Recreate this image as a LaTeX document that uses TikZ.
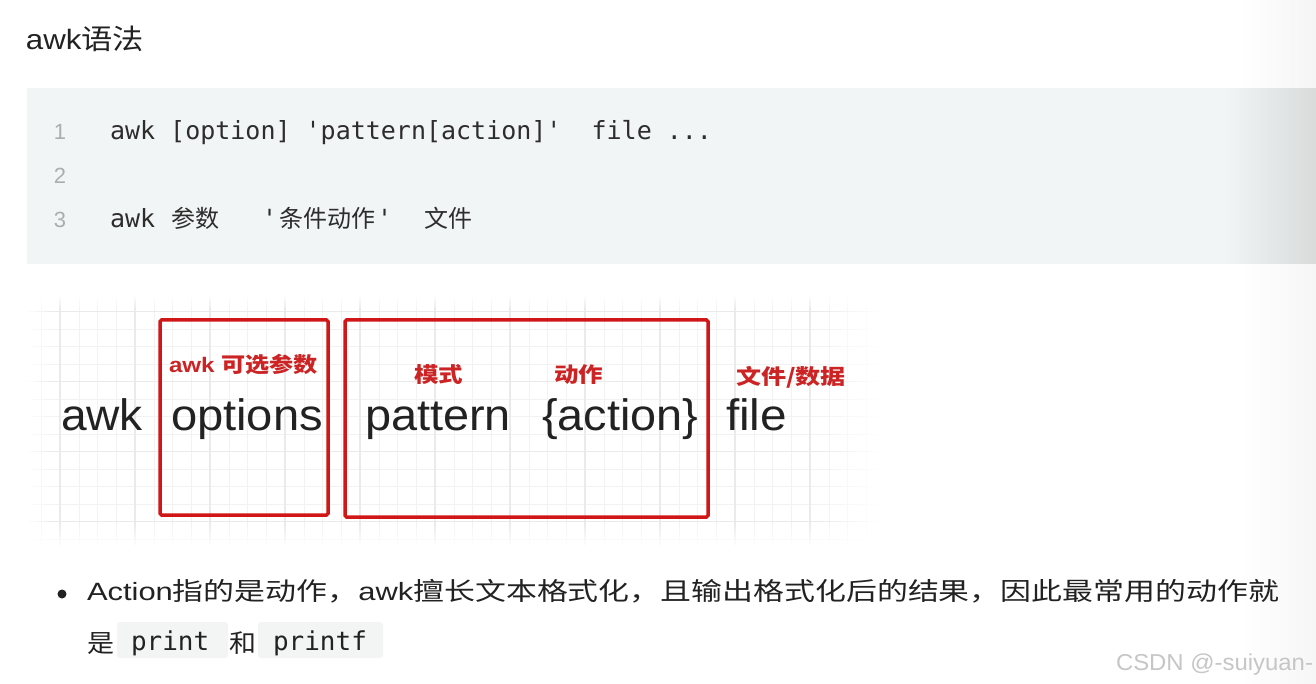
\documentclass[tikz,border=0pt]{standalone}
\usepackage{fontspec}
\usepackage{graphicx}
\setmainfont{Liberation Sans}
\newfontfamily\cjk{Noto Sans CJK SC}
\newfontfamily\mono{DejaVu Sans Mono}
\usetikzlibrary{fadings}
\definecolor{txt}{RGB}{34,34,34}
\definecolor{codetxt}{RGB}{45,45,45}
\definecolor{codebg}{RGB}{242,245,245}
\definecolor{lnum}{RGB}{168,175,175}
\definecolor{boxred}{RGB}{208,22,22}
\definecolor{labred}{RGB}{204,36,36}
\definecolor{gridminor}{RGB}{242,242,242}
\definecolor{gridmajor}{RGB}{234,234,234}
\definecolor{chipbg}{RGB}{243,244,244}
\definecolor{wm}{RGB}{198,198,198}
\tikzset{
  lbl/.style={anchor=base west, inner sep=0pt, outer sep=0pt},
  codeline/.style={lbl, text=codetxt, font=\mono\fontsize{25}{25}\selectfont},
  codecjk/.style={lbl, text=codetxt, font=\cjk\fontsize{24}{24}\selectfont},
  linenum/.style={anchor=base, inner sep=0pt, text=lnum, font=\fontsize{22}{22}\selectfont},
  bigword/.style={lbl, text=txt, font=\fontsize{44}{44}\selectfont},
  redlabel/.style={lbl, text=labred, font=\bfseries\fontsize{21}{21}\selectfont},
  redbox/.style={draw=boxred, line width=3.5pt, rounded corners=1.5pt, inner sep=0pt},
  chip/.style={fill=chipbg, rounded corners=3pt, inner sep=0pt},
  gminor/.style={draw=gridminor, line width=1pt},
  gmajor/.style={draw=gridmajor, line width=1.2pt}
}
\begin{document}
\begin{tikzpicture}[x=1pt,y=-1pt]
\useasboundingbox (0,0) rectangle (1316,684);
\fill[white] (0,0) rectangle (1316,684);

% title
\node[lbl, text=txt, font=\fontsize{28}{28}\selectfont] (title) at (26,50)
  {\resizebox{118pt}{\height}{awk{\cjk 语法}}};

% code block
\fill[codebg] (27,88) rectangle (1316,264);
\node[linenum] (n1) at (60,140) {1};
\node[linenum] (n2) at (60,184) {2};
\node[linenum] (n3) at (60,228) {3};
\node[codeline] (c1) at (110,140) {awk [option] 'pattern[action]'\ \ file ...};
\node[codeline] (c3a) at (110,228) {awk};
\node[codecjk] (c3b) at (171,228) {参数};
\node[codeline] (c3c) at (262,228) {'};
\node[codecjk] (c3d) at (279,228) {条件动作};
\node[codeline] (c3e) at (377,228) {'};
\node[codecjk] (c3f) at (424,228) {文件};

% grid
\begin{scope}
  \clip (27,296) rectangle (880,546);
  \foreach \k in {-1,...,14} \draw[gminor] (27,{311.7+17.5*\k}) -- (880,{311.7+17.5*\k});
  \foreach \k in {-1,...,45} \draw[gminor] ({41.7+18.75*\k},296) -- ({41.7+18.75*\k},546);
  \foreach \k in {0,...,3} \draw[gmajor] (27,{311.7+70*\k}) -- (880,{311.7+70*\k});
  \foreach \k in {0,...,11} \draw[gmajor] ({60+75*\k},296) -- ({60+75*\k},546);
\end{scope}
\fill[white, path fading=east] (26,295) rectangle (52,547);
\fill[white, path fading=west] (815,295) rectangle (881,547);
\fill[white, path fading=north] (26,522) rectangle (881,547);
\fill[white, path fading=south] (26,295) rectangle (881,309);

% red boxes
\node[redbox, minimum width=168pt, minimum height=195pt] (optbox) at (244,417.5) {};
\node[redbox, minimum width=363pt, minimum height=197pt] (actbox) at (526.5,418.5) {};

% red labels
\node[redlabel] (l1) at (169,372) {\resizebox{149pt}{\height}{awk {\cjk 可选参数}}};
\node[redlabel] (l2) at (414,382) {\resizebox{49pt}{\height}{\cjk 模式}};
\node[redlabel] (l3) at (554,382) {\resizebox{49pt}{\height}{\cjk 动作}};
\node[redlabel] (l4) at (736,384) {\resizebox{110pt}{\height}{\cjk 文件/数据}};

% big words
\node[bigword] (w1) at (61,430) {\resizebox{82pt}{\height}{awk}};
\node[bigword] (w2) at (171,430) {\resizebox{152pt}{\height}{options}};
\node[bigword] (w3) at (365,430) {\resizebox{146pt}{\height}{pattern}};
\node[bigword] (w4) at (542,430) {\resizebox{156pt}{\height}{\{action\}}};
\node[bigword] (w5) at (726,430) {\resizebox{61pt}{\height}{file}};

% bullet
\fill[txt] (62,594) circle (4.5pt);
\node[lbl, text=txt, font=\fontsize{25}{25}\selectfont] (b1) at (87,600)
  {\resizebox{1192pt}{\height}{Action{\cjk 指的是动作，}awk{\cjk 擅长文本格式化，且输出格式化后的结果，因此最常用的动作就}}};
\node[lbl, text=txt, font=\cjk\fontsize{25}{25}\selectfont] (b2) at (87,652) {\resizebox{27pt}{\height}{是}};
\node[chip, minimum width=111pt, minimum height=36pt] (chip1) at (172.5,640) {};
\node[lbl, text=txt, font=\mono\fontsize{26}{26}\selectfont] (p1) at (131,650) {print};
\node[lbl, text=txt, font=\cjk\fontsize{25}{25}\selectfont] (b3) at (229,652) {\resizebox{27pt}{\height}{和}};
\node[chip, minimum width=125pt, minimum height=36pt] (chip2) at (320.5,640) {};
\node[lbl, text=txt, font=\mono\fontsize{26}{26}\selectfont] (p2) at (273,650) {printf};

% right-edge shadow
\fill[black, opacity=0.04, path fading=west] (1240,0) rectangle (1316,88);
\fill[black, opacity=0.10, path fading=west] (1225,88) rectangle (1316,264);
\fill[black, opacity=0.035, path fading=west] (1240,264) rectangle (1316,684);

% watermark
\node[lbl, text=wm, font=\fontsize{23}{23}\selectfont] (wm) at (1116,670) {\resizebox{197pt}{\height}{CSDN @-suiyuan-}};
\end{tikzpicture}
\end{document}
